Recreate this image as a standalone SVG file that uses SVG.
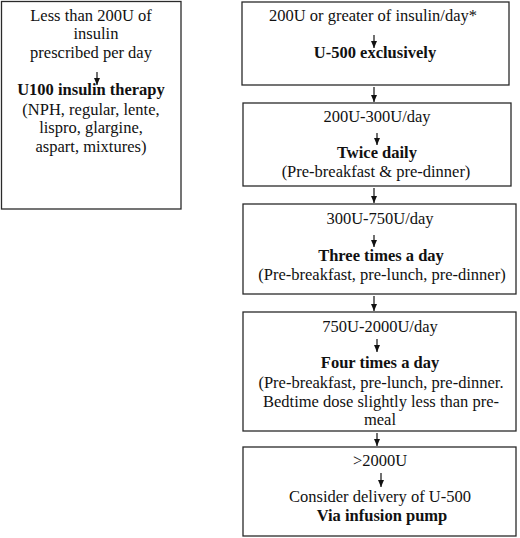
<svg xmlns="http://www.w3.org/2000/svg" width="520" height="538" viewBox="0 0 520 538">
<style>
.box{fill:#fff;stroke:#2a2a2a;stroke-width:1.3}
text{font-family:"Liberation Serif","Times New Roman",serif;font-size:16.5px;fill:#111;text-anchor:middle}
.b{font-weight:bold}
.ar{stroke:#111;stroke-width:1.2;fill:none;marker-end:url(#ah)}
</style>
<defs>
<marker id="ah" viewBox="0 0 7 6" refX="7" refY="3" markerWidth="7" markerHeight="6" markerUnits="userSpaceOnUse" orient="auto">
<path d="M0,0 L7,3 L0,6 z" fill="#111"/>
</marker>
</defs>
<rect width="520" height="538" fill="#fff"/>
<g id="node-left">
<rect class="box" x="1.5" y="1.5" width="179.5" height="207.5"/>
<text x="91" y="21">Less than 200U of</text>
<text x="96" y="39">insulin</text>
<text x="91" y="58">prescribed per day</text>
<line class="ar" x1="97" y1="72" x2="97" y2="85"/>
<text x="91" y="95" class="b">U100 insulin therapy</text>
<text x="91" y="115">(NPH, regular, lente,</text>
<text x="91" y="133">lispro, glargine,</text>
<text x="91" y="152">aspart, mixtures)</text>
</g>
<g id="node-u500">
<rect class="box" x="242" y="2" width="267" height="83"/>
<text x="373" y="21">200U or greater of insulin/day*</text>
<line class="ar" x1="374" y1="35" x2="374" y2="48"/>
<text x="375" y="58" class="b">U-500 exclusively</text>
</g>
<g id="node-twice">
<rect class="box" x="243" y="103" width="268" height="83"/>
<text x="377" y="122">200U-300U/day</text>
<line class="ar" x1="377" y1="133" x2="377" y2="145"/>
<text x="377" y="158" class="b">Twice daily</text>
<text x="376" y="176.5">(Pre-breakfast &amp; pre-dinner)</text>
</g>
<g id="node-three">
<rect class="box" x="243" y="204" width="273" height="90"/>
<text x="380" y="224">300U-750U/day</text>
<line class="ar" x1="374" y1="235" x2="374" y2="247"/>
<text x="381" y="261" class="b">Three times a day</text>
<text x="382" y="280">(Pre-breakfast, pre-lunch, pre-dinner)</text>
</g>
<g id="node-four">
<rect class="box" x="243" y="312" width="273" height="119"/>
<text x="380" y="332">750U-2000U/day</text>
<line class="ar" x1="377" y1="339" x2="377" y2="352"/>
<text x="380" y="368" class="b">Four times a day</text>
<text x="381" y="388">(Pre-breakfast, pre-lunch, pre-dinner.</text>
<text x="381" y="407">Bedtime dose slightly less than pre-</text>
<text x="380" y="425">meal</text>
</g>
<g id="node-pump">
<rect class="box" x="243" y="447" width="273" height="89"/>
<text x="380" y="466">&gt;2000U</text>
<line class="ar" x1="381" y1="473" x2="381" y2="487"/>
<text x="380" y="502">Consider delivery of U-500</text>
<text x="382" y="520.5" class="b">Via infusion pump</text>
</g>
<g id="connectors">
<line class="ar" x1="374" y1="87" x2="374" y2="102"/>
<line class="ar" x1="374" y1="188" x2="374" y2="203"/>
<line class="ar" x1="374" y1="296" x2="374" y2="311"/>
<line class="ar" x1="377" y1="433" x2="377" y2="446"/>
</g>
</svg>
